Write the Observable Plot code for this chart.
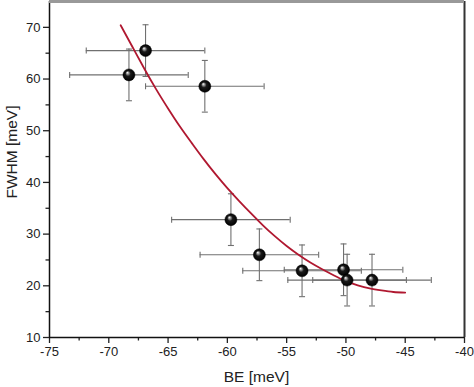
<!DOCTYPE html>
<html><head><meta charset="utf-8">
<script src="https://cdn.jsdelivr.net/npm/d3@7"></script>
<script src="https://cdn.jsdelivr.net/npm/@observablehq/plot@0.6"></script>
<style>body{margin:0;background:#fff}</style>
</head><body><div id="chart"></div>
<script>
const be   = [-68.3, -66.9, -61.9, -59.7, -57.3, -53.7, -50.2, -49.9, -47.8];
const fwhm = [60.8, 65.5, 58.6, 32.8, 26.0, 22.9, 23.1, 21.1, 21.1];
const beErr   = [5, 5, 5, 5, 5, 5, 5, 5, 5];
const fwhmErr = [5, 5, 5, 5, 5, 5, 5, 5, 5];
const fitX = [-69, -68, -67, -66, -65, -64, -63, -62, -61, -60, -59, -58, -57, -56, -55, -54, -53, -52, -51, -50, -49, -48, -47, -46, -45];
const fitY = [70.4, 66.2, 62.0, 58.0, 54.3, 50.8, 47.6, 44.5, 41.6, 38.9, 36.4, 34.0, 31.7, 29.6, 27.7, 26.0, 24.5, 23.2, 22.0, 20.9, 20.1, 19.5, 19.1, 18.8, 18.7];
const xTicks = [-75, -70, -65, -60, -55, -50, -45, -40];
const xMinor = [-72.5, -67.5, -62.5, -57.5, -52.5, -47.5, -42.5];
const yTicks = [10, 20, 30, 40, 50, 60, 70];
const yMinor = [15, 25, 35, 45, 55, 65];
const xLabel = "BE [meV]";
const yLabel = "FWHM [meV]";

const pts = be.map((x, i) => ({x, y: fwhm[i], ex: beErr[i], ey: fwhmErr[i]}));
const fit = fitX.map((x, i) => ({x, y: fitY[i]}));

const capV = {draw(ctx, size) { ctx.moveTo(0, -3); ctx.lineTo(0, 3); }};
const capH = {draw(ctx, size) { ctx.moveTo(-3, 0); ctx.lineTo(3, 0); }};
const errColor = "#707070";
const font = "'Liberation Sans', Arial, sans-serif";

const plot = Plot.plot({
  width: 474, height: 387,
  marginLeft: 49, marginRight: 10, marginTop: 1, marginBottom: 50,
  style: {fontFamily: font, fontSize: "13px", color: "#222", background: "#fff"},
  x: {domain: [-75, -40]},
  y: {domain: [10, 75]},
  marks: [
    Plot.axisX({ticks: xTicks, tickSize: 6, tickPadding: 3, tickFormat: d => `${d}`, fontSize: 13, label: null, fill: "#222", strokeWidth: 1.3}),
    Plot.axisX({ticks: xMinor, tickSize: 3.5, tickFormat: () => "", label: null, strokeWidth: 1.3}),
    Plot.axisY({ticks: yTicks, tickSize: 6, tickPadding: 3, tickFormat: d => `${d}`, fontSize: 13, label: null, fill: "#222", strokeWidth: 1.3}),
    Plot.axisY({ticks: yMinor, tickSize: 3.5, tickFormat: () => "", label: null, strokeWidth: 1.3}),
    Plot.ruleY(pts, {y: "y", x1: d => d.x - d.ex, x2: d => d.x + d.ex, stroke: errColor, strokeWidth: 1.1}),
    Plot.ruleX(pts, {x: "x", y1: d => d.y - d.ey, y2: d => d.y + d.ey, stroke: errColor, strokeWidth: 1.1}),
    Plot.dot(pts, {x: d => d.x - d.ex, y: "y", symbol: capV, r: 3, stroke: errColor, strokeWidth: 1.1, fill: "none"}),
    Plot.dot(pts, {x: d => d.x + d.ex, y: "y", symbol: capV, r: 3, stroke: errColor, strokeWidth: 1.1, fill: "none"}),
    Plot.dot(pts, {x: "x", y: d => d.y - d.ey, symbol: capH, r: 3, stroke: errColor, strokeWidth: 1.1, fill: "none"}),
    Plot.dot(pts, {x: "x", y: d => d.y + d.ey, symbol: capH, r: 3, stroke: errColor, strokeWidth: 1.1, fill: "none"}),
    Plot.line(fit, {x: "x", y: "y", curve: "natural", stroke: "#b01830", strokeWidth: 1.8}),
    Plot.dot(pts, {x: "x", y: "y", r: 6, fill: "url(#ballGrad)", stroke: "#000", strokeWidth: 0.5}),
    Plot.ruleX([-40], {stroke: "#333", strokeWidth: 2}),
    Plot.ruleX([-75], {stroke: "#111", strokeWidth: 1.5}),
    Plot.ruleY([10], {stroke: "#111", strokeWidth: 1.5}),
    Plot.ruleY([75], {stroke: "#999", strokeWidth: 3})
  ]
});

const svg = d3.select(plot);
const defs = svg.insert("defs", ":first-child");
const g = defs.append("radialGradient").attr("id", "ballGrad")
  .attr("cx", "50%").attr("cy", "50%").attr("r", "50%")
  .attr("fx", "36%").attr("fy", "30%");
g.append("stop").attr("offset", "0%").attr("stop-color", "#ffffff");
g.append("stop").attr("offset", "15%").attr("stop-color", "#b0b0b0");
g.append("stop").attr("offset", "45%").attr("stop-color", "#1a1a1a");
g.append("stop").attr("offset", "100%").attr("stop-color", "#000000");

svg.append("text")
  .attr("transform", "translate(13,152) rotate(-90)")
  .attr("text-anchor", "middle").attr("dominant-baseline", "middle")
  .attr("font-family", font).attr("font-size", 15.5).attr("fill", "#222")
  .text(yLabel);

svg.append("text")
  .attr("x", 256.5).attr("y", 378)
  .attr("text-anchor", "middle").attr("dominant-baseline", "middle")
  .attr("font-family", font).attr("font-size", 15.5).attr("fill", "#222")
  .text(xLabel);

document.getElementById("chart").appendChild(plot);
</script></body></html>
